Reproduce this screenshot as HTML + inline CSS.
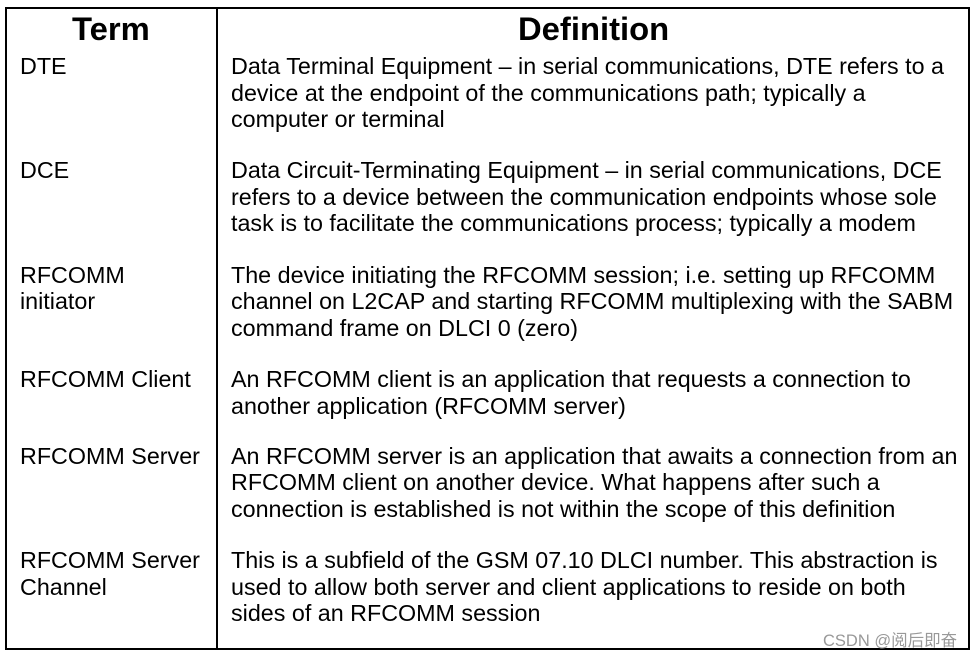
<!DOCTYPE html>
<html><head><meta charset="utf-8"><style>
html,body{margin:0;padding:0;background:#fff;}
body{width:974px;height:657px;position:relative;overflow:hidden;font-family:"Liberation Sans",Arial,sans-serif;color:#000;}
.b{position:absolute;background:#000;}
.t{position:absolute;font-size:23.3px;line-height:24px;white-space:nowrap;}
.h{position:absolute;font-size:32.8px;font-weight:bold;line-height:34px;white-space:nowrap;}
.w{position:absolute;font-family:"Liberation Sans","Noto Sans CJK SC",sans-serif;font-size:16.5px;color:#999;white-space:nowrap;}
</style></head><body>
<div class="b" style="left:5px;top:7px;width:965px;height:2px"></div>
<div class="b" style="left:5px;top:648px;width:965px;height:2px"></div>
<div class="b" style="left:5px;top:7px;width:2px;height:643px"></div>
<div class="b" style="left:968px;top:7px;width:2px;height:643px"></div>
<div class="b" style="left:216px;top:7px;width:2px;height:643px"></div>

<div class="h" style="left:72px;top:12px">Term</div>
<div class="h" style="left:518px;top:12px">Definition</div>

<div class="t" style="left:20px;top:54px">DTE</div>
<div class="t" style="left:231px;top:54px">Data Terminal Equipment – in serial communications, DTE refers to a</div>
<div class="t" style="left:231px;top:81px">device at the endpoint of the communications path; typically a</div>
<div class="t" style="left:231px;top:107px">computer or terminal</div>

<div class="t" style="left:20px;top:158px">DCE</div>
<div class="t" style="left:231px;top:158px">Data Circuit-Terminating Equipment – in serial communications, DCE</div>
<div class="t" style="left:231px;top:185px">refers to a device between the communication endpoints whose sole</div>
<div class="t" style="left:231px;top:211px">task is to facilitate the communications process; typically a modem</div>

<div class="t" style="left:20px;top:263px">RFCOMM</div>
<div class="t" style="left:20px;top:289px">initiator</div>
<div class="t" style="left:231px;top:263px">The device initiating the RFCOMM session; i.e. setting up RFCOMM</div>
<div class="t" style="left:231px;top:289px">channel on L2CAP and starting RFCOMM multiplexing with the SABM</div>
<div class="t" style="left:231px;top:316px">command frame on DLCI 0 (zero)</div>

<div class="t" style="left:20px;top:367px">RFCOMM Client</div>
<div class="t" style="left:231px;top:367px">An RFCOMM client is an application that requests a connection to</div>
<div class="t" style="left:231px;top:394px">another application (RFCOMM server)</div>

<div class="t" style="left:20px;top:444px">RFCOMM Server</div>
<div class="t" style="left:231px;top:444px">An RFCOMM server is an application that awaits a connection from an</div>
<div class="t" style="left:231px;top:470px">RFCOMM client on another device. What happens after such a</div>
<div class="t" style="left:231px;top:497px">connection is established is not within the scope of this definition</div>

<div class="t" style="left:20px;top:548px">RFCOMM Server</div>
<div class="t" style="left:20px;top:575px">Channel</div>
<div class="t" style="left:231px;top:548px">This is a subfield of the GSM 07.10 DLCI number. This abstraction is</div>
<div class="t" style="left:231px;top:575px">used to allow both server and client applications to reside on both</div>
<div class="t" style="left:231px;top:601px">sides of an RFCOMM session</div>

<div class="w" style="left:823px;top:627px">CSDN @阅后即奋</div>
</body></html>
